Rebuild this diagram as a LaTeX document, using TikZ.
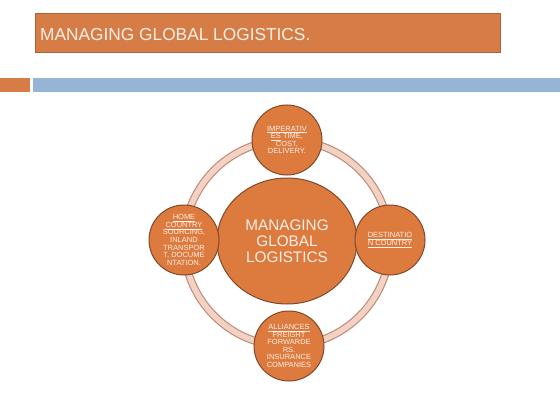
\documentclass[tikz,border=0pt]{standalone}
\usepackage{fontspec}
\setmainfont{Liberation Sans}
\usetikzlibrary{positioning, shapes.geometric}
\definecolor{slideorange}{RGB}{214,124,70}
\definecolor{slideblue}{RGB}{149,180,214}
\definecolor{discorange}{RGB}{221,122,62}
\definecolor{discedge}{RGB}{130,72,44}
\definecolor{ringfill}{RGB}{242,210,196}
\definecolor{ringedge}{RGB}{196,140,118}
\definecolor{lighttext}{RGB}{252,240,232}

\begin{document}
\begin{tikzpicture}[x=1pt, y=-1pt,
    hub/.style={ellipse, minimum width=140pt, minimum height=126pt, inner sep=0pt,
        fill=discorange, draw=discedge, line width=1pt, text=lighttext, align=center,
        font=\fontsize{15.3}{16}\selectfont},
    spoke/.style={circle, minimum size=70pt, inner sep=0pt,
        fill=discorange, draw=discedge, line width=1pt, text=lighttext, align=center,
        font=\fontsize{7.5}{7.6}\selectfont}]
    \useasboundingbox (0,0) rectangle (560,420);

    % Header
    \fill[slideorange, draw=slideorange!80!black, line width=0.4pt] (35,13) rectangle (500,52);
    \node[anchor=base west, text=lighttext, font=\fontsize{17.3}{20}\selectfont, inner sep=0pt] (title) at (40,41) {MANAGING GLOBAL LOGISTICS.};
    \fill[slideorange] (0,78) rectangle (30,92);
    \fill[slideblue] (33,78) rectangle (560,92);

    % Ring
    \coordinate (mid) at (287,243);
    \draw[ringedge, line width=8pt] (mid) circle[radius=103];
    \draw[ringfill, line width=5.6pt] (mid) circle[radius=103];

    % Discs
    \node[hub] (hub) at (287,241) {MANAGING\\GLOBAL\\LOGISTICS};
    \node[spoke] (top) at (287,140) {\underline{IMPERATIV}\\\underline{ES} TIME,\\COST,\\DELIVERY.};
    \node[spoke] (left) at (184,240) {\underline{HOME}\\\underline{COUNTRY}\\SOURCING,\\INLAND\\TRANSPOR\\T, DOCUME\\NTATION.};
    \node[spoke] (right) at (390,240) {\underline{DESTINATIO}\\\underline{N COUNTRY}};
    \node[spoke] (bottom) at (289,346) {\underline{ALLIANCES}\\FREIGHT\\FORWARDE\\RS.\\INSURANCE\\COMPANIES};
\end{tikzpicture}
\end{document}
